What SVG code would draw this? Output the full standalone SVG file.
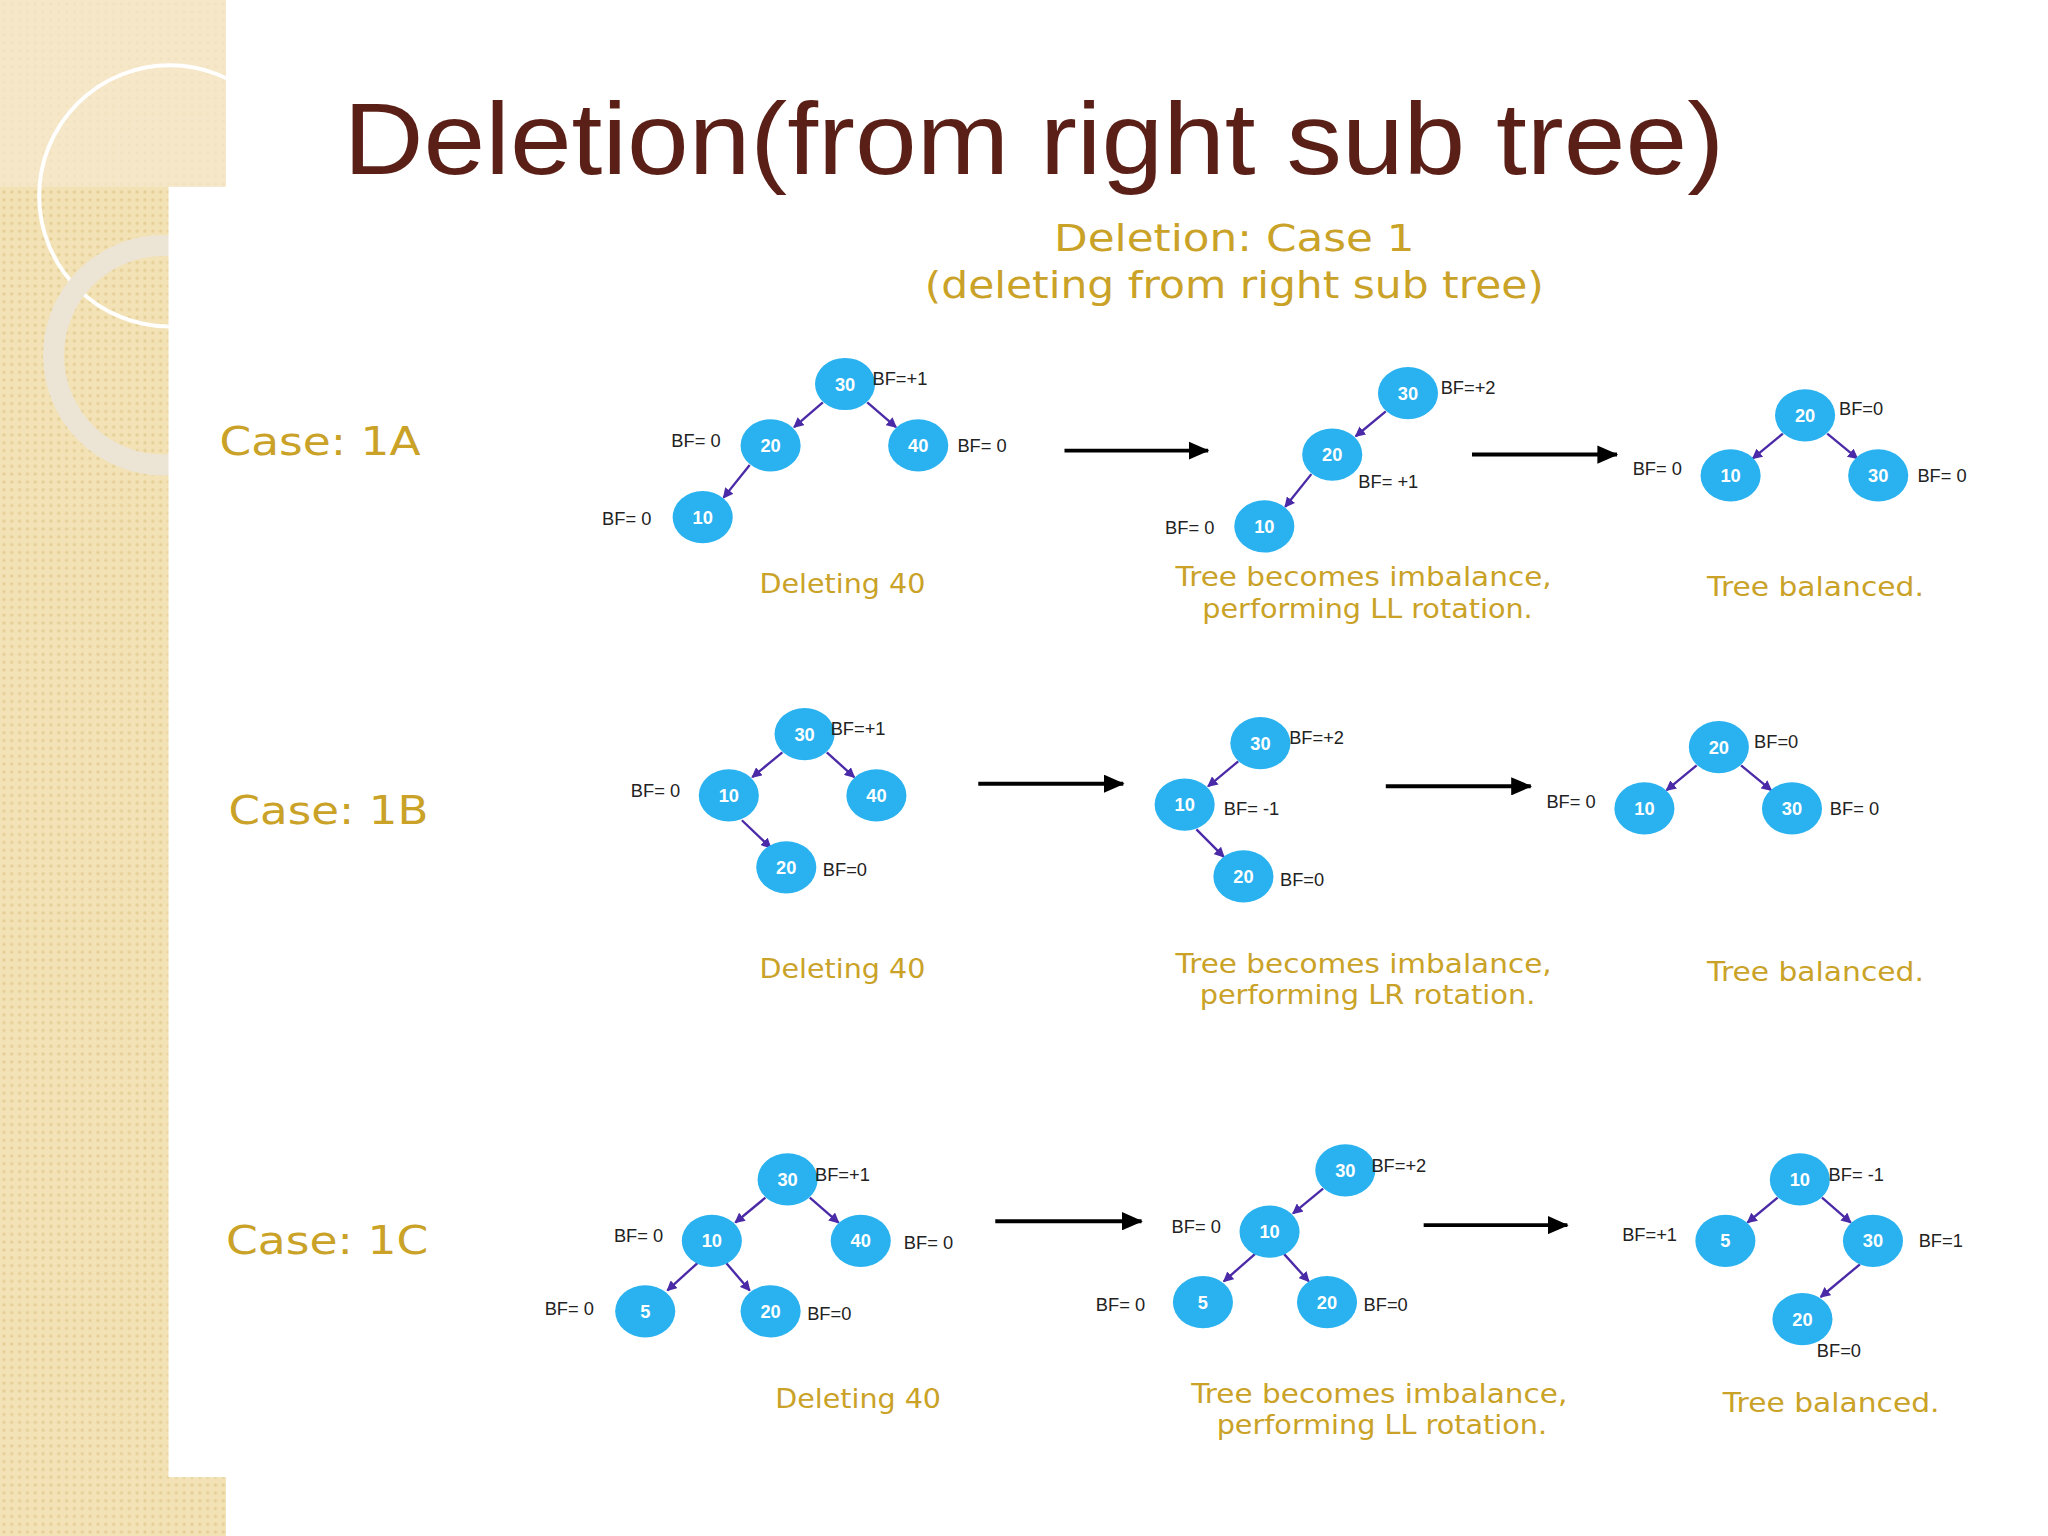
<svg xmlns="http://www.w3.org/2000/svg" width="2048" height="1536" viewBox="0 0 2048 1536">
<defs>
<pattern id="dots" width="6" height="6" patternUnits="userSpaceOnUse"><rect width="6" height="6" fill="#f2e2b6"/><circle cx="3" cy="3" r="1.3" fill="#e6cf96"/></pattern>
<marker id="pa" markerWidth="8" markerHeight="8" refX="7" refY="4" orient="auto" markerUnits="userSpaceOnUse"><path d="M0,0 L8,4 L0,8 z" fill="#4b2aa8"/></marker>
<marker id="ba" markerWidth="16" markerHeight="14" refX="15" refY="7" orient="auto" markerUnits="userSpaceOnUse"><path d="M0,0 L16,7 L0,14 z" fill="#000"/></marker>
</defs>
<style>
.n ellipse{fill:#29b2ef}
.n text{fill:#fff;font:bold 14px "Liberation Sans",Arial,sans-serif;text-anchor:middle}
.bf{fill:#222;font:14px "Liberation Sans",Arial,sans-serif}
.cap{fill:#c9a227;font:20px "DejaVu Sans",Verdana,sans-serif;text-anchor:middle}
.case{fill:#c9a227;font:30px "DejaVu Sans",Verdana,sans-serif}
.e{stroke:#4b2aa8;stroke-width:1.8;fill:none;marker-end:url(#pa)}
.a{stroke:#000;stroke-width:3;fill:none;marker-end:url(#ba)}
</style>
<g transform="scale(1.30612)">
<rect width="1568" height="1176" fill="#fff"/>
<rect width="173" height="1176" fill="url(#dots)"/>
<rect x="0" y="0" width="173" height="143" fill="#f6ead0" opacity="0.7"/>
<circle cx="130" cy="150" r="100" fill="none" stroke="#fff" stroke-width="3"/>
<circle cx="125" cy="272" r="84" fill="none" stroke="#ece5d6" stroke-width="16"/>
<rect x="129" y="143" width="1439" height="988" fill="#fff"/>
<text x="263" y="133" textLength="1057" lengthAdjust="spacingAndGlyphs" style="fill:#5a1f17;font:78px 'Liberation Sans',Arial,sans-serif">Deletion(from right sub tree)</text>
<text x="945" y="192" class="cap" style="font-size:28px" textLength="276" lengthAdjust="spacingAndGlyphs">Deletion: Case 1</text>
<text x="945" y="228" class="cap" style="font-size:28px" textLength="474" lengthAdjust="spacingAndGlyphs">(deleting from right sub tree)</text>
<text x="168" y="348" class="case" textLength="154" lengthAdjust="spacingAndGlyphs">Case: 1A</text>
<text x="175" y="631" class="case" textLength="153" lengthAdjust="spacingAndGlyphs">Case: 1B</text>
<text x="173" y="960" class="case" textLength="155" lengthAdjust="spacingAndGlyphs">Case: 1C</text>

<g id="connectors">
<line class="e" x1="630" y1="308" x2="608" y2="327"/>
<line class="e" x1="664" y1="308" x2="686" y2="327"/>
<line class="e" x1="574" y1="356" x2="554" y2="381"/>
<line class="a" x1="815" y1="345" x2="925" y2="345"/>
<line class="e" x1="1061" y1="315" x2="1038" y2="334"/>
<line class="e" x1="1004" y1="363" x2="984" y2="388"/>
<line class="a" x1="1127" y1="348" x2="1238" y2="348"/>
<line class="e" x1="1365" y1="332" x2="1342" y2="351"/>
<line class="e" x1="1399" y1="332" x2="1422" y2="351"/>

<line class="e" x1="599" y1="576" x2="576" y2="595"/>
<line class="e" x1="633" y1="576" x2="654" y2="595"/>
<line class="e" x1="568" y1="628" x2="590" y2="649"/>
<line class="a" x1="749" y1="600" x2="860" y2="600"/>
<line class="e" x1="948" y1="583" x2="925" y2="602"/>
<line class="e" x1="916" y1="635" x2="937" y2="656"/>
<line class="a" x1="1061" y1="602" x2="1172" y2="602"/>
<line class="e" x1="1299" y1="586" x2="1276" y2="605"/>
<line class="e" x1="1333" y1="586" x2="1356" y2="605"/>

<line class="e" x1="586" y1="917" x2="563" y2="936"/>
<line class="e" x1="620" y1="917" x2="642" y2="936"/>
<line class="e" x1="534" y1="967" x2="511" y2="988"/>
<line class="e" x1="556" y1="967" x2="574" y2="988"/>
<line class="a" x1="762" y1="935" x2="874" y2="935"/>
<line class="e" x1="1013" y1="910" x2="990" y2="929"/>
<line class="e" x1="961" y1="960" x2="937" y2="981"/>
<line class="e" x1="983" y1="960" x2="1002" y2="981"/>
<line class="a" x1="1090" y1="938" x2="1200" y2="938"/>
<line class="e" x1="1361" y1="917" x2="1338" y2="936"/>
<line class="e" x1="1395" y1="917" x2="1417" y2="936"/>
<line class="e" x1="1424" y1="968" x2="1394" y2="993"/>
</g>

<g id="n1a30" class="n"><ellipse cx="647" cy="294" rx="23" ry="20"/><text x="647" y="299">30</text></g>
<g id="n1a20" class="n"><ellipse cx="590" cy="341" rx="23" ry="20"/><text x="590" y="346">20</text></g>
<g id="n1a40" class="n"><ellipse cx="703" cy="341" rx="23" ry="20"/><text x="703" y="346">40</text></g>
<g id="n1a10" class="n"><ellipse cx="538" cy="396" rx="23" ry="20"/><text x="538" y="401">10</text></g>
<g id="n1a2_30" class="n"><ellipse cx="1078" cy="301" rx="23" ry="20"/><text x="1078" y="306">30</text></g>
<g id="n1a2_20" class="n"><ellipse cx="1020" cy="348" rx="23" ry="20"/><text x="1020" y="353">20</text></g>
<g id="n1a2_10" class="n"><ellipse cx="968" cy="403" rx="23" ry="20"/><text x="968" y="408">10</text></g>
<g id="n1a3_20" class="n"><ellipse cx="1382" cy="318" rx="23" ry="20"/><text x="1382" y="323">20</text></g>
<g id="n1a3_10" class="n"><ellipse cx="1325" cy="364" rx="23" ry="20"/><text x="1325" y="369">10</text></g>
<g id="n1a3_30" class="n"><ellipse cx="1438" cy="364" rx="23" ry="20"/><text x="1438" y="369">30</text></g>

<g id="n1b30" class="n"><ellipse cx="616" cy="562" rx="23" ry="20"/><text x="616" y="567">30</text></g>
<g id="n1b10" class="n"><ellipse cx="558" cy="609" rx="23" ry="20"/><text x="558" y="614">10</text></g>
<g id="n1b40" class="n"><ellipse cx="671" cy="609" rx="23" ry="20"/><text x="671" y="614">40</text></g>
<g id="n1b20" class="n"><ellipse cx="602" cy="664" rx="23" ry="20"/><text x="602" y="669">20</text></g>
<g id="n1b2_30" class="n"><ellipse cx="965" cy="569" rx="23" ry="20"/><text x="965" y="574">30</text></g>
<g id="n1b2_10" class="n"><ellipse cx="907" cy="616" rx="23" ry="20"/><text x="907" y="621">10</text></g>
<g id="n1b2_20" class="n"><ellipse cx="952" cy="671" rx="23" ry="20"/><text x="952" y="676">20</text></g>
<g id="n1b3_20" class="n"><ellipse cx="1316" cy="572" rx="23" ry="20"/><text x="1316" y="577">20</text></g>
<g id="n1b3_10" class="n"><ellipse cx="1259" cy="619" rx="23" ry="20"/><text x="1259" y="624">10</text></g>
<g id="n1b3_30" class="n"><ellipse cx="1372" cy="619" rx="23" ry="20"/><text x="1372" y="624">30</text></g>

<g id="n1c30" class="n"><ellipse cx="603" cy="903" rx="23" ry="20"/><text x="603" y="908">30</text></g>
<g id="n1c10" class="n"><ellipse cx="545" cy="950" rx="23" ry="20"/><text x="545" y="955">10</text></g>
<g id="n1c40" class="n"><ellipse cx="659" cy="950" rx="23" ry="20"/><text x="659" y="955">40</text></g>
<g id="n1c5" class="n"><ellipse cx="494" cy="1004" rx="23" ry="20"/><text x="494" y="1009">5</text></g>
<g id="n1c20" class="n"><ellipse cx="590" cy="1004" rx="23" ry="20"/><text x="590" y="1009">20</text></g>
<g id="n1c2_30" class="n"><ellipse cx="1030" cy="896" rx="23" ry="20"/><text x="1030" y="901">30</text></g>
<g id="n1c2_10" class="n"><ellipse cx="972" cy="943" rx="23" ry="20"/><text x="972" y="948">10</text></g>
<g id="n1c2_5" class="n"><ellipse cx="921" cy="997" rx="23" ry="20"/><text x="921" y="1002">5</text></g>
<g id="n1c2_20" class="n"><ellipse cx="1016" cy="997" rx="23" ry="20"/><text x="1016" y="1002">20</text></g>
<g id="n1c3_10" class="n"><ellipse cx="1378" cy="903" rx="23" ry="20"/><text x="1378" y="908">10</text></g>
<g id="n1c3_5" class="n"><ellipse cx="1321" cy="950" rx="23" ry="20"/><text x="1321" y="955">5</text></g>
<g id="n1c3_30" class="n"><ellipse cx="1434" cy="950" rx="23" ry="20"/><text x="1434" y="955">30</text></g>
<g id="n1c3_20" class="n"><ellipse cx="1380" cy="1010" rx="23" ry="20"/><text x="1380" y="1015">20</text></g>

<g id="labels">
<text class="bf" x="668" y="295">BF=+1</text><text class="bf" x="514" y="342">BF= 0</text><text class="bf" x="733" y="346">BF= 0</text><text class="bf" x="461" y="402">BF= 0</text>
<text class="bf" x="1103" y="302">BF=+2</text><text class="bf" x="1040" y="374">BF= +1</text><text class="bf" x="892" y="409">BF= 0</text>
<text class="bf" x="1408" y="318">BF=0</text><text class="bf" x="1250" y="364">BF= 0</text><text class="bf" x="1468" y="369">BF= 0</text>
<text class="bf" x="636" y="563">BF=+1</text><text class="bf" x="483" y="610">BF= 0</text><text class="bf" x="630" y="671">BF=0</text>
<text class="bf" x="987" y="570">BF=+2</text><text class="bf" x="937" y="624">BF= -1</text><text class="bf" x="980" y="678">BF=0</text>
<text class="bf" x="1343" y="573">BF=0</text><text class="bf" x="1184" y="619">BF= 0</text><text class="bf" x="1401" y="624">BF= 0</text>
<text class="bf" x="624" y="904">BF=+1</text><text class="bf" x="470" y="951">BF= 0</text><text class="bf" x="692" y="956">BF= 0</text><text class="bf" x="417" y="1007">BF= 0</text><text class="bf" x="618" y="1011">BF=0</text>
<text class="bf" x="1050" y="897">BF=+2</text><text class="bf" x="897" y="944">BF= 0</text><text class="bf" x="839" y="1004">BF= 0</text><text class="bf" x="1044" y="1004">BF=0</text>
<text class="bf" x="1400" y="904">BF= -1</text><text class="bf" x="1242" y="950">BF=+1</text><text class="bf" x="1469" y="955">BF=1</text><text class="bf" x="1391" y="1039">BF=0</text>
<text class="cap" x="645" y="454" textLength="127" lengthAdjust="spacingAndGlyphs">Deleting 40</text>
<text class="cap" x="1044" y="449" textLength="288" lengthAdjust="spacingAndGlyphs">Tree becomes imbalance,</text>
<text class="cap" x="1047" y="473" textLength="253" lengthAdjust="spacingAndGlyphs">performing LL rotation.</text>
<text class="cap" x="1390" y="456" textLength="166" lengthAdjust="spacingAndGlyphs">Tree balanced.</text>
<text class="cap" x="645" y="749" textLength="127" lengthAdjust="spacingAndGlyphs">Deleting 40</text>
<text class="cap" x="1044" y="745" textLength="288" lengthAdjust="spacingAndGlyphs">Tree becomes imbalance,</text>
<text class="cap" x="1047" y="769" textLength="257" lengthAdjust="spacingAndGlyphs">performing LR rotation.</text>
<text class="cap" x="1390" y="751" textLength="166" lengthAdjust="spacingAndGlyphs">Tree balanced.</text>
<text class="cap" x="657" y="1078" textLength="127" lengthAdjust="spacingAndGlyphs">Deleting 40</text>
<text class="cap" x="1056" y="1074" textLength="288" lengthAdjust="spacingAndGlyphs">Tree becomes imbalance,</text>
<text class="cap" x="1058" y="1098" textLength="253" lengthAdjust="spacingAndGlyphs">performing LL rotation.</text>
<text class="cap" x="1402" y="1081" textLength="166" lengthAdjust="spacingAndGlyphs">Tree balanced.</text>
</g>
</g>
</svg>
